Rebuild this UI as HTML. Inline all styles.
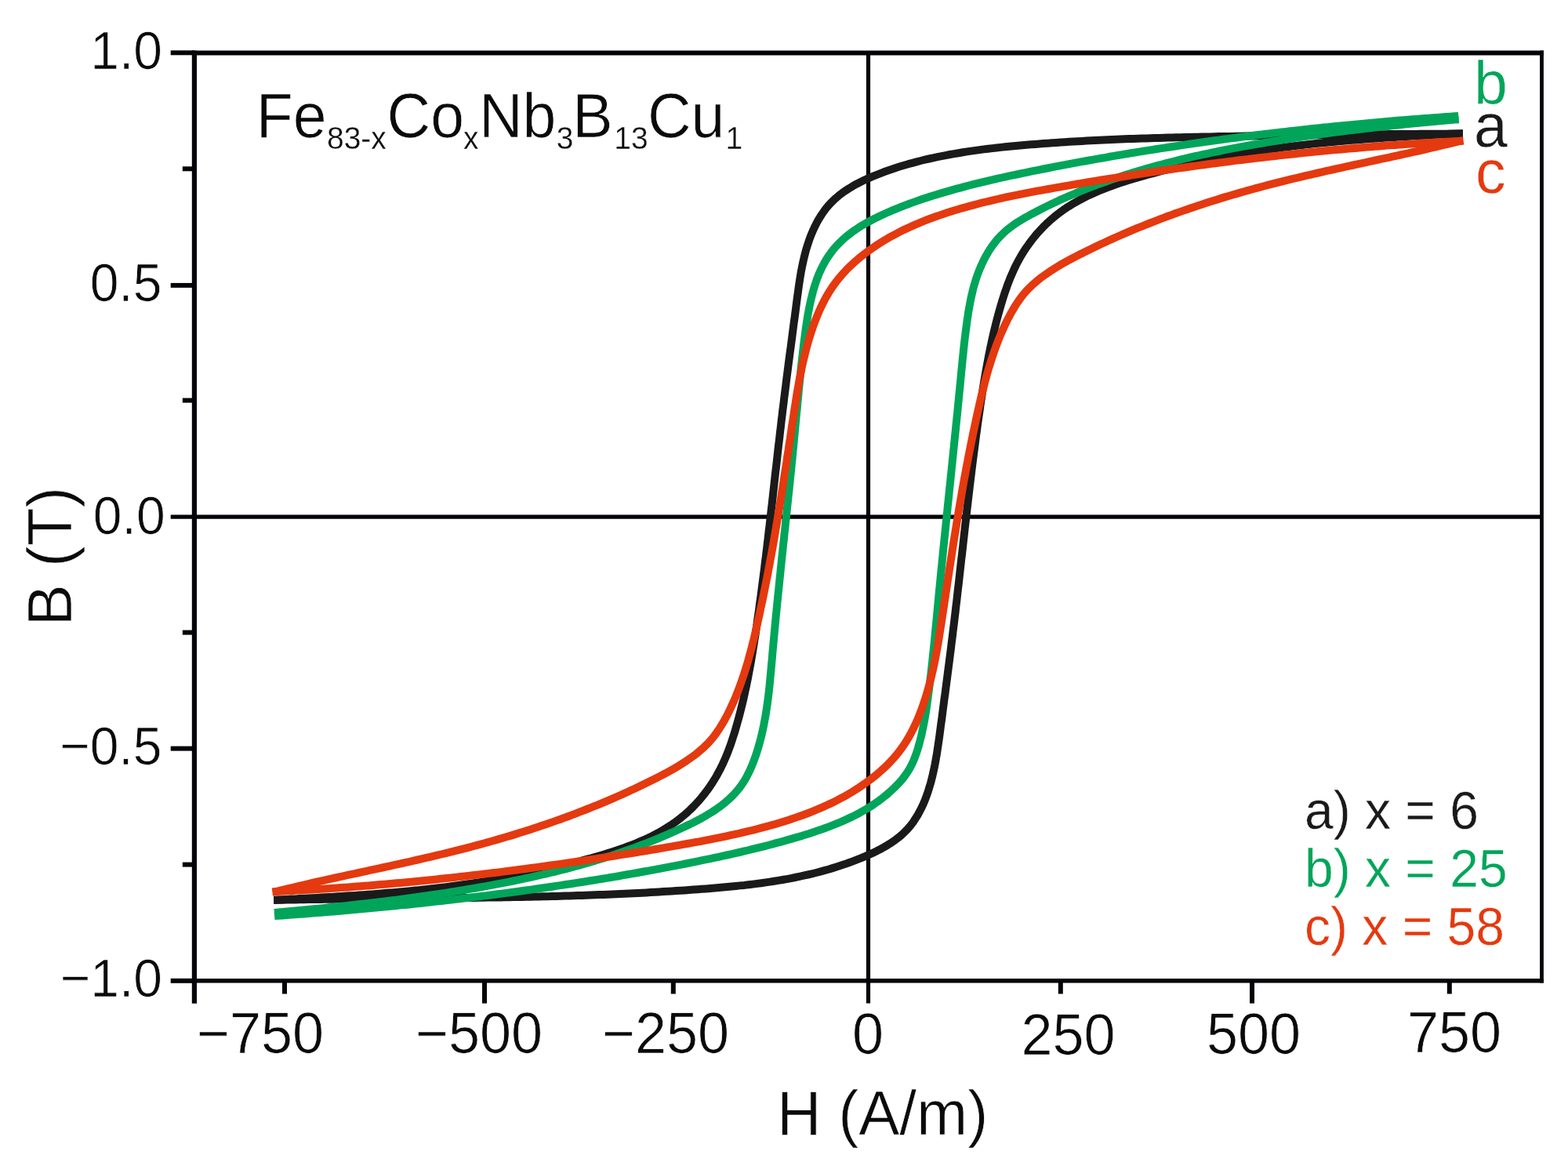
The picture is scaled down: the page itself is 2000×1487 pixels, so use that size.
<!DOCTYPE html>
<html lang="en">
<head>
<meta charset="utf-8">
<title>Hysteresis loops Fe83-xCoxNb3B13Cu1</title>
<style>
html,body{margin:0;padding:0;background:#fff;}
body{width:2000px;height:1487px;overflow:hidden;}
svg{display:block;}
text{font-family:"Liberation Sans",Arial,Helvetica,sans-serif;stroke:#fff;stroke-linejoin:round;}
</style>
</head>
<body>
<svg xmlns="http://www.w3.org/2000/svg" width="2000" height="1487" viewBox="0 0 2000 1487">
<rect x="0" y="0" width="2000" height="1487" fill="#ffffff"/>
<g stroke="#050308" fill="none" stroke-linecap="butt">
<line x1="244.8" y1="67.5" x2="1968.9" y2="67.5" stroke-width="6.2"/>
<line x1="244.8" y1="1250.8" x2="1968.9" y2="1250.8" stroke-width="5.5"/>
<line x1="247.9" y1="64.4" x2="247.9" y2="1279.7" stroke-width="6.2"/>
<line x1="1966.5" y1="64.4" x2="1966.5" y2="1253.5" stroke-width="4.8"/>
<line x1="1107.5" y1="67.5" x2="1107.5" y2="1279.6" stroke-width="5.2"/>
<line x1="217.7" y1="659.15" x2="1966.5" y2="659.15" stroke-width="5.4"/>
<line x1="217.7" y1="67.3" x2="247.9" y2="67.3" stroke-width="6"/>
<line x1="217.7" y1="363.9" x2="247.9" y2="363.9" stroke-width="6"/>
<line x1="217.7" y1="954.6" x2="247.9" y2="954.6" stroke-width="6"/>
<line x1="217.7" y1="1250.8" x2="247.9" y2="1250.8" stroke-width="6"/>
<line x1="232.8" y1="215.3" x2="247.9" y2="215.3" stroke-width="6"/>
<line x1="232.8" y1="510.6" x2="247.9" y2="510.6" stroke-width="6"/>
<line x1="232.8" y1="806.6" x2="247.9" y2="806.6" stroke-width="6"/>
<line x1="232.8" y1="1102.6" x2="247.9" y2="1102.6" stroke-width="6"/>
<line x1="618.0" y1="1250.8" x2="618.0" y2="1279.6" stroke-width="6"/>
<line x1="1597.0" y1="1250.8" x2="1597.0" y2="1279.6" stroke-width="6"/>
<line x1="363.0" y1="1250.8" x2="363.0" y2="1267.5" stroke-width="6"/>
<line x1="858.8" y1="1250.8" x2="858.8" y2="1267.5" stroke-width="6"/>
<line x1="1352.8" y1="1250.8" x2="1352.8" y2="1267.5" stroke-width="6"/>
<line x1="1848.8" y1="1250.8" x2="1848.8" y2="1267.5" stroke-width="6"/>
</g>
<g fill="none" stroke-width="10" stroke-linecap="butt" stroke-linejoin="round">
<path stroke="#1a1a1a" d="M1866.0,170.6 L1860.5,170.6 L1855.1,170.6 L1849.6,170.6 L1844.2,170.7 L1838.7,170.7 L1833.2,170.7 L1827.8,170.7 L1822.3,170.8 L1816.9,170.8 L1811.4,170.8 L1805.9,170.9 L1800.5,170.9 L1795.0,171.0 L1789.6,171.0 L1784.1,171.0 L1778.6,171.1 L1773.2,171.1 L1767.7,171.2 L1762.2,171.2 L1756.8,171.3 L1751.3,171.3 L1745.9,171.4 L1740.4,171.5 L1734.9,171.5 L1729.5,171.6 L1724.0,171.6 L1718.6,171.7 L1713.1,171.8 L1707.6,171.8 L1702.2,171.9 L1696.7,172.0 L1691.3,172.0 L1685.8,172.1 L1680.3,172.2 L1674.9,172.3 L1669.4,172.3 L1663.9,172.4 L1658.5,172.5 L1653.0,172.6 L1647.6,172.6 L1642.1,172.7 L1636.6,172.8 L1631.2,172.9 L1625.7,173.0 L1620.3,173.1 L1614.8,173.1 L1609.3,173.2 L1603.9,173.3 L1598.4,173.4 L1593.0,173.5 L1587.5,173.6 L1582.0,173.7 L1576.6,173.8 L1571.1,173.9 L1565.7,174.0 L1560.2,174.1 L1554.7,174.1 L1549.3,174.3 L1543.8,174.4 L1538.4,174.5 L1532.9,174.6 L1527.4,174.7 L1522.0,174.8 L1516.5,174.9 L1511.1,175.0 L1505.6,175.2 L1500.1,175.3 L1494.7,175.4 L1489.2,175.6 L1483.8,175.7 L1478.3,175.9 L1472.8,176.0 L1467.4,176.2 L1461.9,176.4 L1456.5,176.6 L1451.0,176.7 L1445.5,176.9 L1440.1,177.1 L1434.6,177.3 L1429.2,177.6 L1423.7,177.8 L1418.3,178.0 L1412.8,178.3 L1407.3,178.5 L1401.9,178.8 L1396.4,179.0 L1391.0,179.3 L1385.5,179.6 L1380.1,179.9 L1374.6,180.2 L1369.2,180.5 L1363.7,180.8 L1358.3,181.2 L1352.8,181.5 L1347.4,181.9 L1341.9,182.3 L1336.5,182.7 L1331.0,183.1 L1325.6,183.5 L1320.1,183.9 L1314.7,184.3 L1309.2,184.8 L1303.8,185.3 L1298.4,185.7 L1292.9,186.2 L1287.5,186.8 L1282.1,187.3 L1276.6,187.9 L1271.2,188.5 L1265.8,189.1 L1260.3,189.7 L1254.9,190.4 L1249.5,191.1 L1244.1,191.9 L1238.7,192.6 L1233.3,193.4 L1227.9,194.3 L1222.5,195.2 L1217.1,196.1 L1211.7,197.0 L1206.4,198.1 L1201.0,199.1 L1195.7,200.2 L1190.3,201.3 L1185.0,202.5 L1179.7,203.7 L1174.4,205.0 L1169.1,206.4 L1163.8,207.8 L1158.5,209.2 L1153.3,210.7 L1148.1,212.3 L1142.8,214.0 L1137.7,215.7 L1132.5,217.5 L1127.4,219.3 L1122.3,221.3 L1117.2,223.3 L1112.1,225.4 L1107.1,227.6 L1102.2,229.8 L1097.3,232.2 L1092.4,234.7 L1087.6,237.4 L1083.0,240.2 L1078.4,243.2 L1073.9,246.3 L1069.6,249.7 L1065.5,253.2 L1061.5,257.0 L1057.7,261.0 L1054.2,265.1 L1050.9,269.5 L1047.8,274.0 L1044.9,278.6 L1042.2,283.3 L1039.7,288.2 L1037.4,293.1 L1035.2,298.2 L1033.2,303.2 L1031.4,308.4 L1029.7,313.6 L1028.1,318.8 L1026.7,324.1 L1025.4,329.4 L1024.2,334.7 L1023.1,340.1 L1022.0,345.4 L1021.1,350.8 L1020.2,356.2 L1019.4,361.6 L1018.6,367.0 L1017.9,372.4 L1017.1,377.8 L1016.4,383.2 L1015.7,388.6 L1015.0,394.1 L1014.3,399.5 L1013.6,404.9 L1012.8,410.3 L1012.1,415.7 L1011.4,421.1 L1010.7,426.5 L1010.0,432.0 L1009.3,437.4 L1008.6,442.8 L1007.8,448.2 L1007.1,453.6 L1006.4,459.0 L1005.7,464.4 L1005.0,469.9 L1004.3,475.3 L1003.6,480.7 L1002.9,486.1 L1002.3,491.5 L1001.6,496.9 L1000.9,502.4 L1000.2,507.8 L999.6,513.2 L998.9,518.6 L998.2,524.0 L997.6,529.5 L996.9,534.9 L996.3,540.3 L995.7,545.7 L995.0,551.2 L994.4,556.6 L993.8,562.0 L993.1,567.4 L992.5,572.9 L991.9,578.3 L991.3,583.7 L990.7,589.1 L990.1,594.6 L989.4,600.0 L988.8,605.4 L988.2,610.9 L987.6,616.3 L987.0,621.7 L986.4,627.1 L985.8,632.6 L985.2,638.0 L984.6,643.4 L983.9,648.8 L983.3,654.3 L982.7,659.7 L982.1,665.1 L981.5,670.5 L980.8,676.0 L980.2,681.4 L979.6,686.8 L978.9,692.2 L978.3,697.7 L977.6,703.1 L977.0,708.5 L976.3,713.9 L975.6,719.4 L975.0,724.8 L974.3,730.2 L973.6,735.6 L972.9,741.0 L972.2,746.4 L971.5,751.9 L970.8,757.3 L970.1,762.7 L969.3,768.1 L968.6,773.5 L967.9,778.9 L967.1,784.3 L966.3,789.7 L965.6,795.1 L964.8,800.6 L964.0,806.0 L963.2,811.4 L962.3,816.8 L961.5,822.1 L960.6,827.5 L959.7,832.9 L958.8,838.3 L957.9,843.7 L956.9,849.1 L955.9,854.4 L954.9,859.8 L953.9,865.2 L952.8,870.5 L951.7,875.9 L950.5,881.2 L949.4,886.5 L948.2,891.9 L946.9,897.2 L945.6,902.5 L944.3,907.8 L942.9,913.1 L941.5,918.3 L940.0,923.6 L938.5,928.9 L937.0,934.1 L935.3,939.3 L933.6,944.5 L931.9,949.7 L930.0,954.8 L928.1,959.9 L926.0,965.0 L923.8,970.0 L921.6,974.9 L919.2,979.8 L916.6,984.7 L914.0,989.5 L911.2,994.2 L908.3,998.8 L905.2,1003.3 L902.1,1007.8 L898.8,1012.1 L895.4,1016.4 L891.9,1020.6 L888.2,1024.6 L884.4,1028.6 L880.6,1032.4 L876.6,1036.1 L872.4,1039.7 L868.2,1043.2 L863.9,1046.5 L859.5,1049.7 L854.9,1052.8 L850.3,1055.7 L845.7,1058.6 L840.9,1061.3 L836.1,1063.9 L831.3,1066.4 L826.4,1068.8 L821.4,1071.0 L816.4,1073.2 L811.4,1075.4 L806.3,1077.4 L801.2,1079.3 L796.1,1081.2 L790.9,1083.0 L785.7,1084.8 L780.5,1086.5 L775.3,1088.1 L770.1,1089.7 L764.9,1091.2 L759.6,1092.8 L754.4,1094.3 L749.1,1095.7 L743.8,1097.1 L738.6,1098.6 L733.3,1099.9 L728.0,1101.3 L722.7,1102.7 L717.4,1104.0 L712.1,1105.3 L706.8,1106.5 L701.5,1107.8 L696.2,1109.0 L690.8,1110.2 L685.5,1111.4 L680.2,1112.5 L674.8,1113.7 L669.5,1114.8 L664.1,1115.9 L658.7,1116.9 L653.4,1118.0 L648.0,1119.0 L642.6,1120.0 L637.3,1120.9 L631.9,1121.9 L626.5,1122.8 L621.1,1123.7 L615.7,1124.5 L610.3,1125.4 L604.9,1126.2 L599.5,1127.0 L594.1,1127.8 L588.7,1128.5 L583.3,1129.3 L577.9,1130.0 L572.5,1130.7 L567.1,1131.4 L561.6,1132.0 L556.2,1132.7 L550.8,1133.3 L545.4,1133.9 L539.9,1134.5 L534.5,1135.1 L529.1,1135.6 L523.6,1136.2 L518.2,1136.7 L512.8,1137.2 L507.3,1137.7 L501.9,1138.2 L496.4,1138.6 L491.0,1139.1 L485.5,1139.5 L480.1,1139.9 L474.7,1140.4 L469.2,1140.8 L463.8,1141.2 L458.3,1141.5 L452.9,1141.9 L447.4,1142.3 L442.0,1142.6 L436.5,1143.0 L431.1,1143.3 L425.6,1143.7 L420.2,1144.0 L414.7,1144.3 L409.3,1144.6 L403.8,1144.9 L398.4,1145.2 L392.9,1145.5 L387.4,1145.8 L382.0,1146.1 L376.5,1146.4 L371.1,1146.6 L365.6,1146.9 L360.2,1147.2 L354.7,1147.4 L349.3,1147.7"/>
<path stroke="#1a1a1a" d="M349.2,1147.9 L354.7,1147.8 L360.1,1147.7 L365.6,1147.6 L371.0,1147.5 L376.5,1147.4 L382.0,1147.3 L387.4,1147.2 L392.9,1147.1 L398.3,1147.0 L403.8,1147.0 L409.3,1146.9 L414.7,1146.8 L420.2,1146.7 L425.6,1146.7 L431.1,1146.6 L436.6,1146.5 L442.0,1146.5 L447.5,1146.4 L453.0,1146.4 L458.4,1146.3 L463.9,1146.3 L469.3,1146.2 L474.8,1146.2 L480.3,1146.1 L485.7,1146.1 L491.2,1146.0 L496.6,1146.0 L502.1,1145.9 L507.6,1145.9 L513.0,1145.8 L518.5,1145.8 L524.0,1145.7 L529.4,1145.7 L534.9,1145.6 L540.3,1145.6 L545.8,1145.5 L551.3,1145.5 L556.7,1145.4 L562.2,1145.4 L567.6,1145.3 L573.1,1145.3 L578.6,1145.2 L584.0,1145.1 L589.5,1145.1 L594.9,1145.0 L600.4,1144.9 L605.9,1144.9 L611.3,1144.8 L616.8,1144.7 L622.3,1144.6 L627.7,1144.6 L633.2,1144.5 L638.6,1144.4 L644.1,1144.3 L649.6,1144.2 L655.0,1144.1 L660.5,1144.0 L665.9,1143.9 L671.4,1143.8 L676.9,1143.7 L682.3,1143.6 L687.8,1143.4 L693.2,1143.3 L698.7,1143.2 L704.2,1143.0 L709.6,1142.9 L715.1,1142.7 L720.5,1142.6 L726.0,1142.4 L731.5,1142.3 L736.9,1142.1 L742.4,1141.9 L747.8,1141.7 L753.3,1141.5 L758.8,1141.3 L764.2,1141.1 L769.7,1140.9 L775.1,1140.7 L780.6,1140.5 L786.0,1140.2 L791.5,1140.0 L797.0,1139.7 L802.4,1139.5 L807.9,1139.2 L813.3,1139.0 L818.8,1138.7 L824.2,1138.4 L829.7,1138.1 L835.1,1137.8 L840.6,1137.5 L846.0,1137.1 L851.5,1136.8 L856.9,1136.5 L862.4,1136.1 L867.8,1135.8 L873.3,1135.4 L878.7,1135.0 L884.2,1134.6 L889.6,1134.2 L895.1,1133.8 L900.5,1133.4 L906.0,1133.0 L911.4,1132.5 L916.9,1132.1 L922.3,1131.6 L927.7,1131.1 L933.2,1130.6 L938.6,1130.0 L944.0,1129.4 L949.5,1128.9 L954.9,1128.2 L960.3,1127.6 L965.7,1126.9 L971.1,1126.2 L976.6,1125.4 L982.0,1124.6 L987.4,1123.8 L992.8,1122.9 L998.1,1122.0 L1003.5,1121.1 L1008.9,1120.1 L1014.2,1119.0 L1019.6,1117.9 L1024.9,1116.7 L1030.3,1115.5 L1035.6,1114.3 L1040.9,1113.0 L1046.2,1111.6 L1051.4,1110.2 L1056.7,1108.7 L1061.9,1107.1 L1067.1,1105.5 L1072.3,1103.8 L1077.5,1102.1 L1082.7,1100.2 L1087.8,1098.4 L1092.9,1096.4 L1098.0,1094.4 L1103.0,1092.3 L1108.0,1090.1 L1113.0,1087.9 L1117.9,1085.5 L1122.8,1083.0 L1127.6,1080.4 L1132.3,1077.6 L1136.9,1074.7 L1141.4,1071.6 L1145.7,1068.3 L1149.9,1064.8 L1153.9,1061.1 L1157.7,1057.2 L1161.3,1053.0 L1164.6,1048.7 L1167.6,1044.1 L1170.5,1039.5 L1173.1,1034.7 L1175.6,1029.8 L1177.9,1024.9 L1180.0,1019.8 L1181.9,1014.7 L1183.7,1009.6 L1185.3,1004.3 L1186.9,999.1 L1188.3,993.8 L1189.6,988.5 L1190.8,983.2 L1191.9,977.9 L1193.0,972.5 L1193.9,967.1 L1194.9,961.7 L1195.7,956.3 L1196.5,950.9 L1197.3,945.5 L1198.1,940.1 L1198.8,934.7 L1199.5,929.3 L1200.2,923.9 L1201.0,918.5 L1201.7,913.1 L1202.4,907.6 L1203.1,902.2 L1203.8,896.8 L1204.5,891.4 L1205.3,886.0 L1206.0,880.6 L1206.7,875.2 L1207.4,869.7 L1208.1,864.3 L1208.8,858.9 L1209.5,853.5 L1210.2,848.1 L1210.9,842.7 L1211.6,837.2 L1212.3,831.8 L1213.0,826.4 L1213.6,821.0 L1214.3,815.6 L1215.0,810.1 L1215.6,804.7 L1216.3,799.3 L1217.0,793.9 L1217.6,788.5 L1218.3,783.0 L1218.9,777.6 L1219.5,772.2 L1220.2,766.8 L1220.8,761.3 L1221.4,755.9 L1222.0,750.5 L1222.7,745.1 L1223.3,739.6 L1223.9,734.2 L1224.5,728.8 L1225.1,723.3 L1225.7,717.9 L1226.3,712.5 L1227.0,707.1 L1227.6,701.6 L1228.2,696.2 L1228.8,690.8 L1229.4,685.4 L1230.0,679.9 L1230.6,674.5 L1231.2,669.1 L1231.9,663.6 L1232.5,658.2 L1233.1,652.8 L1233.7,647.4 L1234.4,641.9 L1235.0,636.5 L1235.6,631.1 L1236.3,625.7 L1236.9,620.2 L1237.6,614.8 L1238.2,609.4 L1238.9,604.0 L1239.5,598.6 L1240.2,593.1 L1240.9,587.7 L1241.6,582.3 L1242.3,576.9 L1243.0,571.5 L1243.7,566.1 L1244.4,560.6 L1245.1,555.2 L1245.9,549.8 L1246.6,544.4 L1247.3,539.0 L1248.1,533.6 L1248.9,528.2 L1249.7,522.8 L1250.4,517.4 L1251.2,512.0 L1252.1,506.6 L1252.9,501.2 L1253.7,495.8 L1254.6,490.4 L1255.5,485.0 L1256.4,479.6 L1257.3,474.2 L1258.3,468.8 L1259.3,463.5 L1260.3,458.1 L1261.3,452.7 L1262.4,447.4 L1263.5,442.0 L1264.7,436.7 L1265.8,431.4 L1267.0,426.0 L1268.3,420.7 L1269.6,415.4 L1270.9,410.1 L1272.3,404.8 L1273.7,399.6 L1275.2,394.3 L1276.7,389.1 L1278.3,383.8 L1279.9,378.6 L1281.6,373.4 L1283.4,368.3 L1285.2,363.1 L1287.2,358.0 L1289.2,352.9 L1291.4,347.9 L1293.6,343.0 L1296.0,338.0 L1298.5,333.2 L1301.2,328.4 L1303.9,323.7 L1306.9,319.1 L1309.9,314.6 L1313.1,310.1 L1316.4,305.8 L1319.8,301.5 L1323.3,297.3 L1327.0,293.3 L1330.7,289.3 L1334.6,285.5 L1338.6,281.8 L1342.8,278.2 L1347.0,274.7 L1351.3,271.4 L1355.7,268.2 L1360.2,265.1 L1364.8,262.2 L1369.5,259.3 L1374.3,256.6 L1379.1,254.0 L1383.9,251.5 L1388.8,249.1 L1393.8,246.9 L1398.8,244.7 L1403.8,242.5 L1408.9,240.5 L1414.0,238.6 L1419.1,236.7 L1424.3,234.9 L1429.5,233.1 L1434.6,231.4 L1439.9,229.8 L1445.1,228.2 L1450.3,226.7 L1455.6,225.1 L1460.8,223.7 L1466.1,222.2 L1471.4,220.8 L1476.6,219.4 L1481.9,218.0 L1487.2,216.6 L1492.5,215.3 L1497.8,213.9 L1503.1,212.6 L1508.4,211.4 L1513.7,210.1 L1519.0,208.9 L1524.4,207.7 L1529.7,206.5 L1535.0,205.4 L1540.4,204.2 L1545.7,203.1 L1551.1,202.0 L1556.4,201.0 L1561.8,199.9 L1567.2,198.9 L1572.6,197.9 L1577.9,197.0 L1583.3,196.0 L1588.7,195.1 L1594.1,194.2 L1599.5,193.4 L1604.9,192.5 L1610.3,191.7 L1615.7,190.9 L1621.1,190.1 L1626.5,189.3 L1631.9,188.6 L1637.3,187.9 L1642.7,187.2 L1648.1,186.5 L1653.6,185.9 L1659.0,185.2 L1664.4,184.6 L1669.8,184.0 L1675.3,183.4 L1680.7,182.8 L1686.1,182.3 L1691.6,181.7 L1697.0,181.2 L1702.4,180.7 L1707.9,180.2 L1713.3,179.7 L1718.8,179.3 L1724.2,178.8 L1729.7,178.4 L1735.1,178.0 L1740.5,177.5 L1746.0,177.1 L1751.4,176.7 L1756.9,176.4 L1762.3,176.0 L1767.8,175.6 L1773.2,175.3 L1778.7,174.9 L1784.1,174.6 L1789.6,174.2 L1795.0,173.9 L1800.5,173.6 L1805.9,173.3 L1811.4,173.0 L1816.9,172.7 L1822.3,172.4 L1827.8,172.1 L1833.2,171.8 L1838.7,171.5 L1844.1,171.3 L1849.6,171.0 L1855.0,170.7 L1860.5,170.4 L1865.9,170.2"/>
<path stroke="#00a55a" d="M1860.2,148.0 L1854.9,148.3 L1849.5,148.7 L1844.1,149.1 L1838.7,149.5 L1833.3,149.9 L1827.9,150.3 L1822.6,150.7 L1817.2,151.1 L1811.8,151.5 L1806.4,151.9 L1801.1,152.3 L1795.7,152.8 L1790.3,153.2 L1784.9,153.6 L1779.5,154.1 L1774.2,154.5 L1768.8,155.0 L1763.4,155.5 L1758.0,155.9 L1752.7,156.4 L1747.3,156.9 L1741.9,157.4 L1736.6,157.9 L1731.2,158.4 L1725.8,158.9 L1720.4,159.4 L1715.1,159.9 L1709.7,160.5 L1704.3,161.0 L1699.0,161.5 L1693.6,162.1 L1688.2,162.6 L1682.9,163.2 L1677.5,163.8 L1672.1,164.3 L1666.8,164.9 L1661.4,165.5 L1656.0,166.1 L1650.7,166.7 L1645.3,167.3 L1640.0,167.9 L1634.6,168.5 L1629.2,169.1 L1623.9,169.8 L1618.5,170.4 L1613.2,171.0 L1607.8,171.7 L1602.5,172.3 L1597.1,173.0 L1591.8,173.7 L1586.4,174.4 L1581.1,175.0 L1575.7,175.7 L1570.4,176.4 L1565.0,177.1 L1559.7,177.8 L1554.3,178.6 L1549.0,179.3 L1543.6,180.0 L1538.3,180.8 L1532.9,181.5 L1527.6,182.3 L1522.2,183.0 L1516.9,183.8 L1511.6,184.6 L1506.2,185.4 L1500.9,186.2 L1495.6,187.0 L1490.2,187.8 L1484.9,188.6 L1479.6,189.4 L1474.2,190.2 L1468.9,191.1 L1463.6,191.9 L1458.2,192.7 L1452.9,193.6 L1447.6,194.5 L1442.3,195.3 L1436.9,196.2 L1431.6,197.1 L1426.3,198.0 L1421.0,198.9 L1415.7,199.8 L1410.4,200.8 L1405.0,201.7 L1399.7,202.6 L1394.4,203.6 L1389.1,204.5 L1383.8,205.5 L1378.5,206.4 L1373.2,207.4 L1367.9,208.4 L1362.6,209.4 L1357.3,210.4 L1352.0,211.4 L1346.7,212.4 L1341.4,213.4 L1336.1,214.5 L1330.8,215.5 L1325.5,216.6 L1320.2,217.6 L1314.9,218.7 L1309.6,219.8 L1304.3,220.9 L1299.1,222.0 L1293.8,223.1 L1288.5,224.2 L1283.2,225.3 L1278.0,226.5 L1272.7,227.7 L1267.4,228.9 L1262.2,230.1 L1256.9,231.3 L1251.7,232.6 L1246.5,233.9 L1241.2,235.2 L1236.0,236.5 L1230.8,237.9 L1225.6,239.3 L1220.3,240.7 L1215.2,242.1 L1210.0,243.6 L1204.8,245.1 L1199.6,246.6 L1194.4,248.2 L1189.3,249.8 L1184.1,251.4 L1179.0,253.1 L1173.9,254.8 L1168.8,256.6 L1163.7,258.4 L1158.7,260.2 L1153.6,262.1 L1148.6,264.1 L1143.6,266.1 L1138.6,268.2 L1133.6,270.3 L1128.7,272.5 L1123.8,274.8 L1118.9,277.1 L1114.1,279.5 L1109.3,282.0 L1104.6,284.6 L1099.9,287.3 L1095.4,290.1 L1090.9,293.1 L1086.5,296.2 L1082.2,299.5 L1078.0,302.9 L1074.0,306.5 L1070.1,310.3 L1066.4,314.2 L1062.9,318.3 L1059.6,322.6 L1056.5,327.0 L1053.6,331.5 L1050.9,336.2 L1048.4,341.0 L1046.1,345.9 L1044.0,350.8 L1042.0,355.9 L1040.3,361.0 L1038.6,366.1 L1037.1,371.3 L1035.8,376.5 L1034.5,381.7 L1033.3,387.0 L1032.2,392.3 L1031.2,397.6 L1030.2,402.9 L1029.4,408.2 L1028.6,413.6 L1027.8,418.9 L1027.1,424.2 L1026.4,429.6 L1025.7,434.9 L1025.0,440.3 L1024.4,445.7 L1023.8,451.0 L1023.2,456.4 L1022.6,461.7 L1022.0,467.1 L1021.4,472.5 L1020.9,477.8 L1020.3,483.2 L1019.8,488.6 L1019.2,493.9 L1018.7,499.3 L1018.2,504.7 L1017.7,510.0 L1017.2,515.4 L1016.7,520.8 L1016.1,526.2 L1015.6,531.5 L1015.1,536.9 L1014.6,542.3 L1014.1,547.6 L1013.6,553.0 L1013.1,558.4 L1012.6,563.8 L1012.1,569.1 L1011.5,574.5 L1011.0,579.9 L1010.5,585.2 L1009.9,590.6 L1009.4,596.0 L1008.9,601.3 L1008.3,606.7 L1007.8,612.1 L1007.2,617.4 L1006.7,622.8 L1006.1,628.2 L1005.5,633.5 L1005.0,638.9 L1004.4,644.3 L1003.8,649.6 L1003.3,655.0 L1002.7,660.4 L1002.1,665.7 L1001.6,671.1 L1001.0,676.5 L1000.4,681.8 L999.9,687.2 L999.3,692.5 L998.7,697.9 L998.2,703.3 L997.6,708.6 L997.0,714.0 L996.5,719.4 L995.9,724.7 L995.4,730.1 L994.8,735.5 L994.3,740.8 L993.7,746.2 L993.2,751.6 L992.6,756.9 L992.1,762.3 L991.5,767.7 L991.0,773.0 L990.5,778.4 L989.9,783.8 L989.4,789.1 L988.9,794.5 L988.4,799.9 L987.9,805.3 L987.4,810.6 L986.9,816.0 L986.4,821.4 L985.9,826.8 L985.4,832.1 L985.0,837.5 L984.5,842.9 L984.0,848.2 L983.5,853.6 L983.0,859.0 L982.5,864.4 L982.0,869.7 L981.5,875.1 L980.9,880.5 L980.3,885.8 L979.6,891.2 L978.9,896.5 L978.1,901.9 L977.3,907.2 L976.5,912.5 L975.5,917.8 L974.5,923.1 L973.5,928.4 L972.3,933.7 L971.1,938.9 L969.7,944.2 L968.3,949.4 L966.8,954.6 L965.2,959.7 L963.5,964.8 L961.6,969.9 L959.7,974.9 L957.6,979.9 L955.3,984.8 L952.9,989.6 L950.3,994.3 L947.4,998.9 L944.3,1003.3 L941.0,1007.5 L937.4,1011.6 L933.7,1015.5 L929.8,1019.2 L925.7,1022.8 L921.5,1026.2 L917.2,1029.4 L912.8,1032.5 L908.3,1035.5 L903.7,1038.3 L899.1,1041.1 L894.4,1043.7 L889.6,1046.2 L884.8,1048.7 L880.0,1051.1 L875.1,1053.4 L870.2,1055.7 L865.3,1058.0 L860.4,1060.2 L855.5,1062.4 L850.5,1064.6 L845.6,1066.7 L840.6,1068.8 L835.6,1070.8 L830.6,1072.9 L825.6,1074.8 L820.6,1076.8 L815.5,1078.7 L810.5,1080.6 L805.4,1082.4 L800.3,1084.2 L795.2,1086.0 L790.1,1087.8 L785.0,1089.5 L779.9,1091.2 L774.7,1092.8 L769.6,1094.4 L764.4,1096.0 L759.3,1097.6 L754.1,1099.1 L748.9,1100.7 L743.7,1102.1 L738.5,1103.6 L733.3,1105.0 L728.1,1106.4 L722.9,1107.8 L717.7,1109.1 L712.5,1110.5 L707.2,1111.8 L702.0,1113.0 L696.7,1114.3 L691.5,1115.5 L686.2,1116.7 L681.0,1117.9 L675.7,1119.1 L670.4,1120.2 L665.1,1121.3 L659.9,1122.4 L654.6,1123.5 L649.3,1124.6 L644.0,1125.6 L638.7,1126.7 L633.4,1127.7 L628.1,1128.7 L622.8,1129.6 L617.5,1130.6 L612.2,1131.5 L606.9,1132.5 L601.5,1133.4 L596.2,1134.3 L590.9,1135.2 L585.6,1136.0 L580.2,1136.9 L574.9,1137.7 L569.6,1138.6 L564.3,1139.4 L558.9,1140.2 L553.6,1141.0 L548.2,1141.8 L542.9,1142.5 L537.6,1143.3 L532.2,1144.0 L526.9,1144.8 L521.5,1145.5 L516.2,1146.2 L510.8,1146.9 L505.5,1147.6 L500.1,1148.3 L494.8,1148.9 L489.4,1149.6 L484.1,1150.2 L478.7,1150.9 L473.3,1151.5 L468.0,1152.1 L462.6,1152.7 L457.3,1153.3 L451.9,1153.9 L446.5,1154.5 L441.2,1155.1 L435.8,1155.7 L430.4,1156.2 L425.1,1156.8 L419.7,1157.3 L414.3,1157.9 L409.0,1158.4 L403.6,1158.9 L398.2,1159.4 L392.9,1160.0 L387.5,1160.5 L382.1,1161.0 L376.8,1161.5 L371.4,1162.0 L366.0,1162.5 L360.6,1162.9 L355.3,1163.4 L349.9,1163.9"/>
<path stroke="#00a55a" d="M350.1,1168.1 L355.5,1167.7 L360.9,1167.4 L366.3,1167.0 L371.7,1166.6 L377.0,1166.2 L382.4,1165.8 L387.8,1165.4 L393.2,1165.0 L398.6,1164.5 L403.9,1164.1 L409.3,1163.7 L414.7,1163.2 L420.1,1162.8 L425.4,1162.4 L430.8,1161.9 L436.2,1161.4 L441.6,1161.0 L447.0,1160.5 L452.3,1160.0 L457.7,1159.6 L463.1,1159.1 L468.5,1158.6 L473.8,1158.1 L479.2,1157.6 L484.6,1157.1 L489.9,1156.6 L495.3,1156.0 L500.7,1155.5 L506.1,1155.0 L511.4,1154.4 L516.8,1153.9 L522.2,1153.4 L527.5,1152.8 L532.9,1152.2 L538.3,1151.7 L543.6,1151.1 L549.0,1150.5 L554.4,1149.9 L559.7,1149.3 L565.1,1148.7 L570.4,1148.1 L575.8,1147.5 L581.2,1146.9 L586.5,1146.3 L591.9,1145.6 L597.2,1145.0 L602.6,1144.3 L608.0,1143.7 L613.3,1143.0 L618.7,1142.4 L624.0,1141.7 L629.4,1141.0 L634.7,1140.3 L640.1,1139.6 L645.4,1138.9 L650.8,1138.2 L656.1,1137.5 L661.5,1136.8 L666.8,1136.0 L672.2,1135.3 L677.5,1134.6 L682.8,1133.8 L688.2,1133.0 L693.5,1132.3 L698.9,1131.5 L704.2,1130.7 L709.5,1129.9 L714.9,1129.1 L720.2,1128.3 L725.6,1127.5 L730.9,1126.7 L736.2,1125.9 L741.6,1125.0 L746.9,1124.2 L752.2,1123.3 L757.5,1122.5 L762.9,1121.6 L768.2,1120.7 L773.5,1119.9 L778.8,1119.0 L784.2,1118.1 L789.5,1117.2 L794.8,1116.2 L800.1,1115.3 L805.4,1114.4 L810.7,1113.5 L816.0,1112.5 L821.4,1111.5 L826.7,1110.6 L832.0,1109.6 L837.3,1108.6 L842.6,1107.6 L847.9,1106.6 L853.2,1105.6 L858.5,1104.6 L863.8,1103.6 L869.1,1102.6 L874.4,1101.5 L879.7,1100.5 L885.0,1099.4 L890.2,1098.3 L895.5,1097.2 L900.8,1096.2 L906.1,1095.1 L911.4,1093.9 L916.7,1092.8 L921.9,1091.7 L927.2,1090.5 L932.5,1089.3 L937.7,1088.2 L943.0,1087.0 L948.3,1085.7 L953.5,1084.5 L958.8,1083.2 L964.0,1081.9 L969.2,1080.6 L974.5,1079.3 L979.7,1078.0 L984.9,1076.6 L990.1,1075.2 L995.3,1073.8 L1000.5,1072.4 L1005.7,1070.9 L1010.9,1069.4 L1016.1,1067.9 L1021.3,1066.4 L1026.4,1064.8 L1031.6,1063.2 L1036.7,1061.5 L1041.8,1059.8 L1046.9,1058.1 L1052.0,1056.2 L1057.1,1054.4 L1062.1,1052.4 L1067.1,1050.4 L1072.1,1048.3 L1077.0,1046.2 L1081.9,1043.9 L1086.8,1041.6 L1091.6,1039.2 L1096.4,1036.7 L1101.1,1034.0 L1105.8,1031.3 L1110.4,1028.5 L1114.9,1025.5 L1119.3,1022.4 L1123.6,1019.2 L1127.9,1015.9 L1132.1,1012.5 L1136.1,1008.9 L1140.1,1005.2 L1143.9,1001.4 L1147.6,997.5 L1151.1,993.4 L1154.4,989.1 L1157.5,984.7 L1160.3,980.1 L1162.8,975.3 L1165.1,970.4 L1167.1,965.4 L1168.9,960.4 L1170.6,955.2 L1172.1,950.0 L1173.5,944.8 L1174.8,939.6 L1176.0,934.3 L1177.1,929.0 L1178.2,923.8 L1179.2,918.5 L1180.1,913.1 L1181.0,907.8 L1181.8,902.5 L1182.6,897.1 L1183.3,891.8 L1184.0,886.4 L1184.7,881.1 L1185.4,875.7 L1186.1,870.4 L1186.7,865.0 L1187.4,859.7 L1188.0,854.3 L1188.6,848.9 L1189.2,843.6 L1189.7,838.2 L1190.3,832.9 L1190.9,827.5 L1191.4,822.1 L1192.0,816.7 L1192.5,811.4 L1193.0,806.0 L1193.5,800.6 L1194.1,795.3 L1194.6,789.9 L1195.1,784.5 L1195.6,779.1 L1196.1,773.8 L1196.6,768.4 L1197.1,763.0 L1197.6,757.7 L1198.1,752.3 L1198.7,746.9 L1199.2,741.5 L1199.7,736.2 L1200.2,730.8 L1200.8,725.4 L1201.3,720.1 L1201.8,714.7 L1202.4,709.3 L1202.9,704.0 L1203.4,698.6 L1204.0,693.2 L1204.5,687.9 L1205.1,682.5 L1205.6,677.1 L1206.2,671.7 L1206.7,666.4 L1207.3,661.0 L1207.8,655.6 L1208.4,650.3 L1208.9,644.9 L1209.5,639.5 L1210.0,634.2 L1210.6,628.8 L1211.1,623.4 L1211.7,618.1 L1212.3,612.7 L1212.8,607.3 L1213.4,602.0 L1213.9,596.6 L1214.5,591.2 L1215.0,585.9 L1215.6,580.5 L1216.1,575.1 L1216.7,569.8 L1217.2,564.4 L1217.8,559.0 L1218.3,553.7 L1218.9,548.3 L1219.4,542.9 L1220.0,537.6 L1220.5,532.2 L1221.1,526.8 L1221.6,521.4 L1222.1,516.1 L1222.7,510.7 L1223.2,505.3 L1223.7,500.0 L1224.3,494.6 L1224.8,489.2 L1225.3,483.9 L1225.8,478.5 L1226.3,473.1 L1226.9,467.7 L1227.4,462.4 L1227.9,457.0 L1228.5,451.6 L1229.0,446.3 L1229.6,440.9 L1230.2,435.5 L1230.8,430.2 L1231.5,424.8 L1232.2,419.5 L1232.9,414.1 L1233.6,408.8 L1234.4,403.4 L1235.2,398.1 L1236.1,392.8 L1237.1,387.5 L1238.1,382.2 L1239.3,376.9 L1240.5,371.7 L1241.8,366.4 L1243.3,361.2 L1244.9,356.1 L1246.6,351.0 L1248.5,345.9 L1250.6,340.9 L1252.8,336.0 L1255.1,331.1 L1257.6,326.4 L1260.3,321.7 L1263.2,317.1 L1266.3,312.7 L1269.6,308.4 L1273.0,304.3 L1276.7,300.3 L1280.6,296.6 L1284.6,293.0 L1288.9,289.7 L1293.2,286.5 L1297.7,283.5 L1302.3,280.7 L1307.0,277.9 L1311.7,275.3 L1316.4,272.7 L1321.2,270.2 L1326.0,267.7 L1330.8,265.3 L1335.6,262.9 L1340.5,260.5 L1345.4,258.2 L1350.2,255.9 L1355.2,253.7 L1360.1,251.5 L1365.0,249.4 L1370.0,247.3 L1375.0,245.2 L1380.0,243.1 L1385.0,241.1 L1390.0,239.2 L1395.1,237.2 L1400.1,235.4 L1405.2,233.5 L1410.3,231.7 L1415.4,229.9 L1420.5,228.1 L1425.6,226.4 L1430.7,224.7 L1435.8,223.1 L1441.0,221.4 L1446.1,219.8 L1451.3,218.3 L1456.5,216.7 L1461.6,215.2 L1466.8,213.8 L1472.0,212.3 L1477.2,210.9 L1482.5,209.5 L1487.7,208.1 L1492.9,206.8 L1498.1,205.5 L1503.4,204.2 L1508.6,202.9 L1513.9,201.7 L1519.1,200.4 L1524.4,199.2 L1529.7,198.1 L1534.9,196.9 L1540.2,195.8 L1545.5,194.7 L1550.8,193.6 L1556.0,192.5 L1561.3,191.4 L1566.6,190.4 L1571.9,189.4 L1577.2,188.4 L1582.5,187.4 L1587.8,186.4 L1593.2,185.5 L1598.5,184.5 L1603.8,183.6 L1609.1,182.7 L1614.4,181.8 L1619.8,180.9 L1625.1,180.0 L1630.4,179.2 L1635.7,178.3 L1641.1,177.5 L1646.4,176.7 L1651.7,175.8 L1657.1,175.0 L1662.4,174.3 L1667.7,173.5 L1673.1,172.7 L1678.4,172.0 L1683.8,171.2 L1689.1,170.5 L1694.5,169.8 L1699.8,169.1 L1705.2,168.4 L1710.5,167.7 L1715.9,167.1 L1721.2,166.4 L1726.6,165.7 L1732.0,165.1 L1737.3,164.5 L1742.7,163.8 L1748.0,163.2 L1753.4,162.6 L1758.8,162.0 L1764.1,161.4 L1769.5,160.9 L1774.9,160.3 L1780.2,159.7 L1785.6,159.2 L1791.0,158.6 L1796.3,158.1 L1801.7,157.6 L1807.1,157.0 L1812.4,156.5 L1817.8,156.0 L1823.2,155.5 L1828.6,155.0 L1833.9,154.5 L1839.3,154.0 L1844.7,153.6 L1850.1,153.1 L1855.4,152.6 L1860.8,152.2"/>
<path stroke="#e5390f" d="M1866.5,179.8 L1861.4,180.1 L1856.3,180.3 L1851.2,180.6 L1846.0,180.8 L1840.9,181.1 L1835.8,181.4 L1830.7,181.6 L1825.6,181.9 L1820.5,182.2 L1815.3,182.5 L1810.2,182.8 L1805.1,183.2 L1800.0,183.5 L1794.9,183.8 L1789.8,184.2 L1784.7,184.5 L1779.6,184.9 L1774.4,185.2 L1769.3,185.6 L1764.2,186.0 L1759.1,186.4 L1754.0,186.8 L1748.9,187.2 L1743.8,187.6 L1738.7,188.0 L1733.6,188.4 L1728.5,188.9 L1723.4,189.3 L1718.3,189.7 L1713.2,190.2 L1708.1,190.7 L1703.0,191.1 L1697.9,191.6 L1692.8,192.1 L1687.7,192.6 L1682.6,193.1 L1677.5,193.6 L1672.4,194.1 L1667.3,194.6 L1662.2,195.1 L1657.1,195.6 L1652.0,196.2 L1646.9,196.7 L1641.8,197.2 L1636.7,197.8 L1631.6,198.4 L1626.5,198.9 L1621.4,199.5 L1616.3,200.1 L1611.2,200.7 L1606.1,201.3 L1601.1,201.9 L1596.0,202.5 L1590.9,203.1 L1585.8,203.7 L1580.7,204.3 L1575.6,204.9 L1570.5,205.6 L1565.5,206.2 L1560.4,206.9 L1555.3,207.5 L1550.2,208.2 L1545.1,208.8 L1540.1,209.5 L1535.0,210.2 L1529.9,210.9 L1524.8,211.6 L1519.8,212.3 L1514.7,213.0 L1509.6,213.7 L1504.5,214.4 L1499.5,215.1 L1494.4,215.8 L1489.3,216.6 L1484.2,217.3 L1479.2,218.0 L1474.1,218.8 L1469.0,219.5 L1464.0,220.3 L1458.9,221.1 L1453.8,221.8 L1448.8,222.6 L1443.7,223.4 L1438.6,224.2 L1433.6,225.0 L1428.5,225.8 L1423.5,226.6 L1418.4,227.4 L1413.3,228.2 L1408.3,229.0 L1403.2,229.8 L1398.2,230.6 L1393.1,231.5 L1388.1,232.3 L1383.0,233.1 L1378.0,234.0 L1372.9,234.8 L1367.9,235.7 L1362.8,236.6 L1357.8,237.4 L1352.7,238.3 L1347.7,239.2 L1342.6,240.1 L1337.6,241.0 L1332.5,241.9 L1327.5,242.8 L1322.4,243.7 L1317.4,244.7 L1312.4,245.6 L1307.3,246.6 L1302.3,247.6 L1297.3,248.6 L1292.3,249.6 L1287.3,250.7 L1282.3,251.7 L1277.2,252.8 L1272.2,254.0 L1267.3,255.1 L1262.3,256.3 L1257.3,257.5 L1252.3,258.7 L1247.3,260.0 L1242.4,261.3 L1237.4,262.6 L1232.5,264.0 L1227.6,265.3 L1222.7,266.8 L1217.7,268.2 L1212.8,269.8 L1208.0,271.3 L1203.1,272.9 L1198.2,274.6 L1193.4,276.3 L1188.6,278.0 L1183.8,279.8 L1179.0,281.7 L1174.3,283.6 L1169.5,285.6 L1164.8,287.6 L1160.2,289.7 L1155.5,291.9 L1150.9,294.1 L1146.3,296.4 L1141.8,298.8 L1137.3,301.2 L1132.8,303.7 L1128.4,306.3 L1124.0,309.0 L1119.7,311.7 L1115.4,314.6 L1111.2,317.5 L1107.1,320.5 L1103.0,323.5 L1098.9,326.7 L1095.0,329.9 L1091.1,333.3 L1087.3,336.7 L1083.5,340.2 L1079.9,343.8 L1076.4,347.6 L1073.0,351.4 L1069.7,355.3 L1066.5,359.3 L1063.5,363.5 L1060.6,367.7 L1057.8,372.0 L1055.2,376.4 L1052.7,380.8 L1050.3,385.4 L1048.0,390.0 L1045.8,394.6 L1043.8,399.3 L1041.8,404.0 L1039.9,408.8 L1038.1,413.6 L1036.4,418.4 L1034.8,423.3 L1033.2,428.1 L1031.7,433.0 L1030.3,438.0 L1028.9,442.9 L1027.6,447.9 L1026.4,452.8 L1025.2,457.8 L1024.0,462.8 L1022.9,467.8 L1021.9,472.8 L1020.9,477.9 L1019.9,482.9 L1019.0,487.9 L1018.1,493.0 L1017.2,498.0 L1016.4,503.1 L1015.6,508.1 L1014.8,513.2 L1014.0,518.3 L1013.2,523.3 L1012.4,528.4 L1011.7,533.4 L1010.9,538.5 L1010.1,543.6 L1009.4,548.6 L1008.6,553.7 L1007.9,558.8 L1007.1,563.8 L1006.3,568.9 L1005.6,574.0 L1004.8,579.0 L1004.0,584.1 L1003.3,589.2 L1002.5,594.2 L1001.7,599.3 L1000.9,604.4 L1000.1,609.4 L999.4,614.5 L998.6,619.6 L997.8,624.6 L997.0,629.7 L996.2,634.7 L995.3,639.8 L994.5,644.9 L993.7,649.9 L992.9,655.0 L992.0,660.0 L991.2,665.1 L990.3,670.1 L989.5,675.2 L988.6,680.2 L987.7,685.3 L986.9,690.3 L986.0,695.4 L985.1,700.4 L984.2,705.5 L983.2,710.5 L982.3,715.5 L981.4,720.6 L980.4,725.6 L979.5,730.6 L978.5,735.7 L977.5,740.7 L976.5,745.7 L975.5,750.7 L974.5,755.8 L973.5,760.8 L972.5,765.8 L971.4,770.8 L970.3,775.8 L969.3,780.8 L968.2,785.8 L967.1,790.8 L965.9,795.8 L964.8,800.8 L963.7,805.8 L962.5,810.8 L961.3,815.8 L960.0,820.8 L958.8,825.7 L957.5,830.7 L956.1,835.6 L954.8,840.6 L953.4,845.5 L951.9,850.4 L950.4,855.3 L948.8,860.2 L947.2,865.0 L945.5,869.9 L943.8,874.7 L942.0,879.5 L940.1,884.3 L938.2,889.0 L936.2,893.7 L934.1,898.4 L931.9,903.1 L929.7,907.7 L927.4,912.2 L925.0,916.8 L922.5,921.2 L919.8,925.6 L917.1,930.0 L914.2,934.2 L911.2,938.3 L908.0,942.3 L904.6,946.2 L901.0,949.9 L897.4,953.4 L893.5,956.8 L889.6,960.1 L885.6,963.3 L881.4,966.3 L877.2,969.2 L873.0,972.1 L868.7,974.8 L864.3,977.5 L859.9,980.1 L855.4,982.6 L850.9,985.1 L846.4,987.5 L841.8,989.9 L837.3,992.2 L832.7,994.5 L828.1,996.8 L823.5,999.0 L818.9,1001.3 L814.3,1003.5 L809.7,1005.7 L805.0,1007.8 L800.4,1010.0 L795.7,1012.1 L791.0,1014.2 L786.3,1016.3 L781.6,1018.3 L776.9,1020.3 L772.2,1022.3 L767.5,1024.3 L762.8,1026.3 L758.0,1028.2 L753.3,1030.1 L748.5,1032.0 L743.7,1033.9 L739.0,1035.7 L734.2,1037.6 L729.4,1039.4 L724.6,1041.2 L719.8,1042.9 L714.9,1044.7 L710.1,1046.4 L705.3,1048.1 L700.5,1049.8 L695.6,1051.5 L690.8,1053.1 L685.9,1054.7 L681.0,1056.3 L676.2,1057.9 L671.3,1059.5 L666.4,1061.0 L661.5,1062.6 L656.6,1064.1 L651.7,1065.6 L646.8,1067.0 L641.9,1068.5 L637.0,1069.9 L632.1,1071.4 L627.1,1072.8 L622.2,1074.1 L617.3,1075.5 L612.3,1076.9 L607.4,1078.2 L602.4,1079.5 L597.5,1080.8 L592.5,1082.1 L587.5,1083.4 L582.6,1084.6 L577.6,1085.9 L572.6,1087.1 L567.7,1088.3 L562.7,1089.5 L557.7,1090.7 L552.7,1091.9 L547.7,1093.1 L542.7,1094.2 L537.7,1095.4 L532.7,1096.5 L527.7,1097.7 L522.7,1098.8 L517.7,1099.9 L512.7,1101.0 L507.7,1102.1 L502.7,1103.2 L497.7,1104.3 L492.7,1105.4 L487.7,1106.5 L482.7,1107.6 L477.7,1108.7 L472.7,1109.7 L467.7,1110.8 L462.7,1111.9 L457.7,1113.0 L452.7,1114.1 L447.7,1115.1 L442.6,1116.2 L437.6,1117.3 L432.6,1118.4 L427.6,1119.5 L422.6,1120.6 L417.6,1121.7 L412.6,1122.8 L407.6,1123.9 L402.6,1125.0 L397.6,1126.2 L392.6,1127.3 L387.6,1128.5 L382.6,1129.6 L377.7,1130.8 L372.7,1132.0 L367.7,1133.2 L362.7,1134.4 L357.7,1135.6 L352.8,1136.8 L347.8,1138.0"/>
<path stroke="#e5390f" d="M347.5,1137.2 L352.6,1136.9 L357.7,1136.7 L362.8,1136.4 L368.0,1136.2 L373.1,1135.9 L378.2,1135.6 L383.3,1135.4 L388.4,1135.1 L393.5,1134.8 L398.7,1134.5 L403.8,1134.2 L408.9,1133.8 L414.0,1133.5 L419.1,1133.2 L424.2,1132.8 L429.3,1132.5 L434.4,1132.1 L439.6,1131.8 L444.7,1131.4 L449.8,1131.0 L454.9,1130.6 L460.0,1130.2 L465.1,1129.8 L470.2,1129.4 L475.3,1129.0 L480.4,1128.6 L485.5,1128.1 L490.6,1127.7 L495.7,1127.3 L500.8,1126.8 L505.9,1126.3 L511.0,1125.9 L516.1,1125.4 L521.2,1124.9 L526.3,1124.4 L531.4,1123.9 L536.5,1123.4 L541.6,1122.9 L546.7,1122.4 L551.8,1121.9 L556.9,1121.4 L562.0,1120.8 L567.1,1120.3 L572.2,1119.8 L577.3,1119.2 L582.4,1118.6 L587.5,1118.1 L592.6,1117.5 L597.7,1116.9 L602.8,1116.3 L607.9,1115.7 L612.9,1115.1 L618.0,1114.5 L623.1,1113.9 L628.2,1113.3 L633.3,1112.7 L638.4,1112.1 L643.5,1111.4 L648.5,1110.8 L653.6,1110.1 L658.7,1109.5 L663.8,1108.8 L668.9,1108.2 L673.9,1107.5 L679.0,1106.8 L684.1,1106.1 L689.2,1105.4 L694.3,1104.7 L699.3,1104.0 L704.4,1103.3 L709.5,1102.6 L714.5,1101.9 L719.6,1101.2 L724.7,1100.4 L729.8,1099.7 L734.8,1099.0 L739.9,1098.2 L745.0,1097.5 L750.0,1096.7 L755.1,1095.9 L760.2,1095.2 L765.2,1094.4 L770.3,1093.6 L775.4,1092.8 L780.4,1092.0 L785.5,1091.2 L790.5,1090.4 L795.6,1089.6 L800.7,1088.8 L805.7,1088.0 L810.8,1087.2 L815.8,1086.4 L820.9,1085.5 L825.9,1084.7 L831.0,1083.9 L836.0,1083.0 L841.1,1082.2 L846.1,1081.3 L851.2,1080.4 L856.2,1079.6 L861.3,1078.7 L866.3,1077.8 L871.4,1076.9 L876.4,1076.0 L881.5,1075.1 L886.5,1074.2 L891.6,1073.3 L896.6,1072.3 L901.6,1071.4 L906.7,1070.4 L911.7,1069.4 L916.7,1068.4 L921.7,1067.4 L926.7,1066.3 L931.7,1065.2 L936.8,1064.2 L941.8,1063.0 L946.7,1061.9 L951.7,1060.7 L956.7,1059.5 L961.7,1058.3 L966.7,1057.0 L971.6,1055.7 L976.6,1054.4 L981.5,1053.0 L986.4,1051.7 L991.4,1050.2 L996.3,1048.8 L1001.2,1047.2 L1006.0,1045.7 L1010.9,1044.1 L1015.8,1042.4 L1020.6,1040.7 L1025.4,1039.0 L1030.2,1037.2 L1035.0,1035.3 L1039.7,1033.4 L1044.5,1031.4 L1049.2,1029.4 L1053.8,1027.3 L1058.5,1025.1 L1063.1,1022.9 L1067.7,1020.6 L1072.2,1018.2 L1076.7,1015.8 L1081.2,1013.3 L1085.6,1010.7 L1090.0,1008.0 L1094.3,1005.3 L1098.5,1002.4 L1102.8,999.5 L1106.9,996.5 L1111.0,993.5 L1115.1,990.3 L1119.0,987.1 L1122.9,983.7 L1126.7,980.3 L1130.4,976.8 L1134.1,973.2 L1137.6,969.4 L1141.0,965.6 L1144.3,961.7 L1147.5,957.7 L1150.5,953.5 L1153.4,949.3 L1156.2,945.0 L1158.8,940.6 L1161.3,936.2 L1163.7,931.6 L1166.0,927.0 L1168.2,922.4 L1170.3,917.7 L1172.2,913.0 L1174.1,908.2 L1175.9,903.4 L1177.6,898.6 L1179.2,893.7 L1180.8,888.9 L1182.3,883.9 L1183.7,879.0 L1185.1,874.1 L1186.4,869.1 L1187.6,864.2 L1188.8,859.2 L1190.0,854.2 L1191.1,849.2 L1192.1,844.2 L1193.1,839.1 L1194.1,834.1 L1195.0,829.1 L1195.9,824.0 L1196.8,819.0 L1197.6,813.9 L1198.4,808.9 L1199.2,803.8 L1200.0,798.7 L1200.8,793.7 L1201.6,788.6 L1202.3,783.6 L1203.1,778.5 L1203.9,773.4 L1204.6,768.4 L1205.4,763.3 L1206.1,758.2 L1206.9,753.2 L1207.7,748.1 L1208.4,743.0 L1209.2,738.0 L1210.0,732.9 L1210.7,727.8 L1211.5,722.8 L1212.3,717.7 L1213.1,712.6 L1213.9,707.6 L1214.6,702.5 L1215.4,697.4 L1216.2,692.4 L1217.0,687.3 L1217.8,682.3 L1218.7,677.2 L1219.5,672.1 L1220.3,667.1 L1221.1,662.0 L1222.0,657.0 L1222.8,651.9 L1223.7,646.9 L1224.5,641.8 L1225.4,636.8 L1226.3,631.7 L1227.1,626.7 L1228.0,621.6 L1228.9,616.6 L1229.8,611.5 L1230.8,606.5 L1231.7,601.5 L1232.6,596.4 L1233.6,591.4 L1234.5,586.4 L1235.5,581.3 L1236.5,576.3 L1237.5,571.3 L1238.5,566.3 L1239.5,561.2 L1240.5,556.2 L1241.5,551.2 L1242.6,546.2 L1243.7,541.2 L1244.7,536.2 L1245.8,531.2 L1246.9,526.1 L1248.1,521.1 L1249.2,516.2 L1250.3,511.2 L1251.5,506.2 L1252.7,501.2 L1254.0,496.2 L1255.2,491.3 L1256.5,486.3 L1257.8,481.4 L1259.2,476.4 L1260.6,471.5 L1262.1,466.6 L1263.6,461.7 L1265.2,456.8 L1266.8,452.0 L1268.5,447.1 L1270.2,442.3 L1272.0,437.5 L1273.9,432.7 L1275.8,428.0 L1277.8,423.3 L1279.9,418.6 L1282.1,413.9 L1284.3,409.3 L1286.6,404.8 L1289.1,400.2 L1291.6,395.8 L1294.2,391.4 L1296.9,387.0 L1299.8,382.8 L1302.8,378.7 L1306.0,374.7 L1309.4,370.8 L1312.9,367.1 L1316.6,363.6 L1320.5,360.2 L1324.4,356.9 L1328.4,353.7 L1332.6,350.7 L1336.8,347.8 L1341.0,344.9 L1345.3,342.2 L1349.7,339.5 L1354.1,336.9 L1358.6,334.4 L1363.1,331.9 L1367.6,329.5 L1372.2,327.1 L1376.7,324.8 L1381.3,322.5 L1385.9,320.2 L1390.5,318.0 L1395.1,315.7 L1399.7,313.5 L1404.3,311.3 L1409.0,309.2 L1413.6,307.0 L1418.3,304.9 L1423.0,302.8 L1427.7,300.7 L1432.4,298.7 L1437.1,296.7 L1441.8,294.7 L1446.5,292.7 L1451.2,290.7 L1456.0,288.8 L1460.7,286.9 L1465.5,285.0 L1470.3,283.1 L1475.0,281.3 L1479.8,279.4 L1484.6,277.6 L1489.4,275.8 L1494.2,274.1 L1499.1,272.3 L1503.9,270.6 L1508.7,268.9 L1513.6,267.2 L1518.4,265.5 L1523.2,263.9 L1528.1,262.3 L1533.0,260.7 L1537.8,259.1 L1542.7,257.5 L1547.6,256.0 L1552.5,254.4 L1557.4,252.9 L1562.3,251.4 L1567.2,250.0 L1572.1,248.5 L1577.0,247.1 L1582.0,245.6 L1586.9,244.2 L1591.8,242.9 L1596.7,241.5 L1601.7,240.1 L1606.6,238.8 L1611.6,237.5 L1616.5,236.2 L1621.5,234.9 L1626.5,233.6 L1631.4,232.4 L1636.4,231.1 L1641.4,229.9 L1646.3,228.7 L1651.3,227.5 L1656.3,226.3 L1661.3,225.1 L1666.3,223.9 L1671.3,222.8 L1676.3,221.6 L1681.3,220.5 L1686.3,219.3 L1691.3,218.2 L1696.3,217.1 L1701.3,216.0 L1706.3,214.9 L1711.3,213.8 L1716.3,212.7 L1721.3,211.6 L1726.3,210.5 L1731.3,209.4 L1736.3,208.3 L1741.3,207.3 L1746.3,206.2 L1751.3,205.1 L1756.3,204.0 L1761.3,202.9 L1766.3,201.9 L1771.4,200.8 L1776.4,199.7 L1781.4,198.6 L1786.4,197.5 L1791.4,196.4 L1796.4,195.3 L1801.4,194.2 L1806.4,193.1 L1811.4,192.0 L1816.4,190.8 L1821.4,189.7 L1826.4,188.5 L1831.4,187.4 L1836.3,186.2 L1841.3,185.0 L1846.3,183.8 L1851.3,182.6 L1856.3,181.4 L1861.3,180.2 L1866.2,179.0"/>
</g>
<text transform="translate(332,1343.3) scale(1.0,1.02)" font-size="72" text-anchor="middle" fill="#0a0a0a" stroke-width="0.7">−750</text>
<text transform="translate(611,1343.3) scale(1.0,1.02)" font-size="72" text-anchor="middle" fill="#0a0a0a" stroke-width="0.7">−500</text>
<text transform="translate(849,1343.3) scale(1.0,1.02)" font-size="72" text-anchor="middle" fill="#0a0a0a" stroke-width="0.7">−250</text>
<text transform="translate(1107,1344.3) scale(1.0,1.02)" font-size="72" text-anchor="middle" fill="#0a0a0a" stroke-width="0.7">0</text>
<text transform="translate(1362.5,1344.8) scale(1.0,1.02)" font-size="72" text-anchor="middle" fill="#0a0a0a" stroke-width="0.7">250</text>
<text transform="translate(1599,1344.3) scale(1.0,1.02)" font-size="72" text-anchor="middle" fill="#0a0a0a" stroke-width="0.7">500</text>
<text transform="translate(1855,1342.3) scale(1.0,1.02)" font-size="72" text-anchor="middle" fill="#0a0a0a" stroke-width="0.7">750</text>
<text transform="translate(207,88.2) scale(1.0,1.05)" font-size="66" text-anchor="end" fill="#0a0a0a" stroke-width="0.7">1.0</text>
<text transform="translate(206.4,384.4) scale(1.0,1.05)" font-size="66" text-anchor="end" fill="#0a0a0a" stroke-width="0.7">0.5</text>
<text transform="translate(210.6,680.8) scale(1.0,1.05)" font-size="66" text-anchor="end" fill="#0a0a0a" stroke-width="0.7">0.0</text>
<text transform="translate(206.4,974.9) scale(1.0,1.05)" font-size="66" text-anchor="end" fill="#0a0a0a" stroke-width="0.7">−0.5</text>
<text transform="translate(207,1271.3) scale(1.0,1.05)" font-size="66" text-anchor="end" fill="#0a0a0a" stroke-width="0.7">−1.0</text>
<text transform="translate(1125.6,1446.5) scale(1.0,1.02)" font-size="78.2" text-anchor="middle" fill="#0a0a0a" stroke-width="0.7">H (A/m)</text>
<text transform="translate(90.6,709.7) rotate(-90)" font-size="80" text-anchor="middle" fill="#0a0a0a" stroke-width="0.7">B (T)</text>
<text transform="translate(0,174.8) scale(1,1.03)" font-size="77" fill="#0a0a0a" stroke-width="0.7"><tspan x="326.7" dy="0">Fe</tspan><tspan x="417.0" dy="14.6" font-size="39" stroke-width="0.3">83-x</tspan><tspan x="493.6" dy="-14.6">Co</tspan><tspan x="591.0" dy="14.6" font-size="39" stroke-width="0.3">x</tspan><tspan x="611.0" dy="-14.6">Nb</tspan><tspan x="709.7" dy="14.6" font-size="39" stroke-width="0.3">3</tspan><tspan x="730.2" dy="-14.6">B</tspan><tspan x="783.3" dy="14.6" font-size="39" stroke-width="0.3">13</tspan><tspan x="825.9" dy="-14.6">Cu</tspan><tspan x="925.4" dy="14.6" font-size="39" stroke-width="0.3">1</tspan></text>
<text transform="translate(1664,1057.3) scale(1.0,1.03)" font-size="66" text-anchor="start" fill="#1a1a1a" stroke-width="0.4">a) x = 6</text>
<text transform="translate(1664,1131.3) scale(1.0,1.03)" font-size="66" text-anchor="start" fill="#00a55a" stroke-width="0.4">b) x = 25</text>
<text transform="translate(1664,1205.3) scale(1.0,1.03)" font-size="66" text-anchor="start" fill="#e5390f" stroke-width="0.4">c) x = 58</text>
<text transform="translate(1880,132.5) scale(1.0,1.0)" font-size="77" text-anchor="start" fill="#00a55a" stroke-width="0.4">b</text>
<text transform="translate(1880,186.5) scale(1.0,1.0)" font-size="77" text-anchor="start" fill="#1a1a1a" stroke-width="0.4">a</text>
<text transform="translate(1882,246) scale(1.0,1.0)" font-size="77" text-anchor="start" fill="#e5390f" stroke-width="0.4">c</text>
</svg>
</body>
</html>
